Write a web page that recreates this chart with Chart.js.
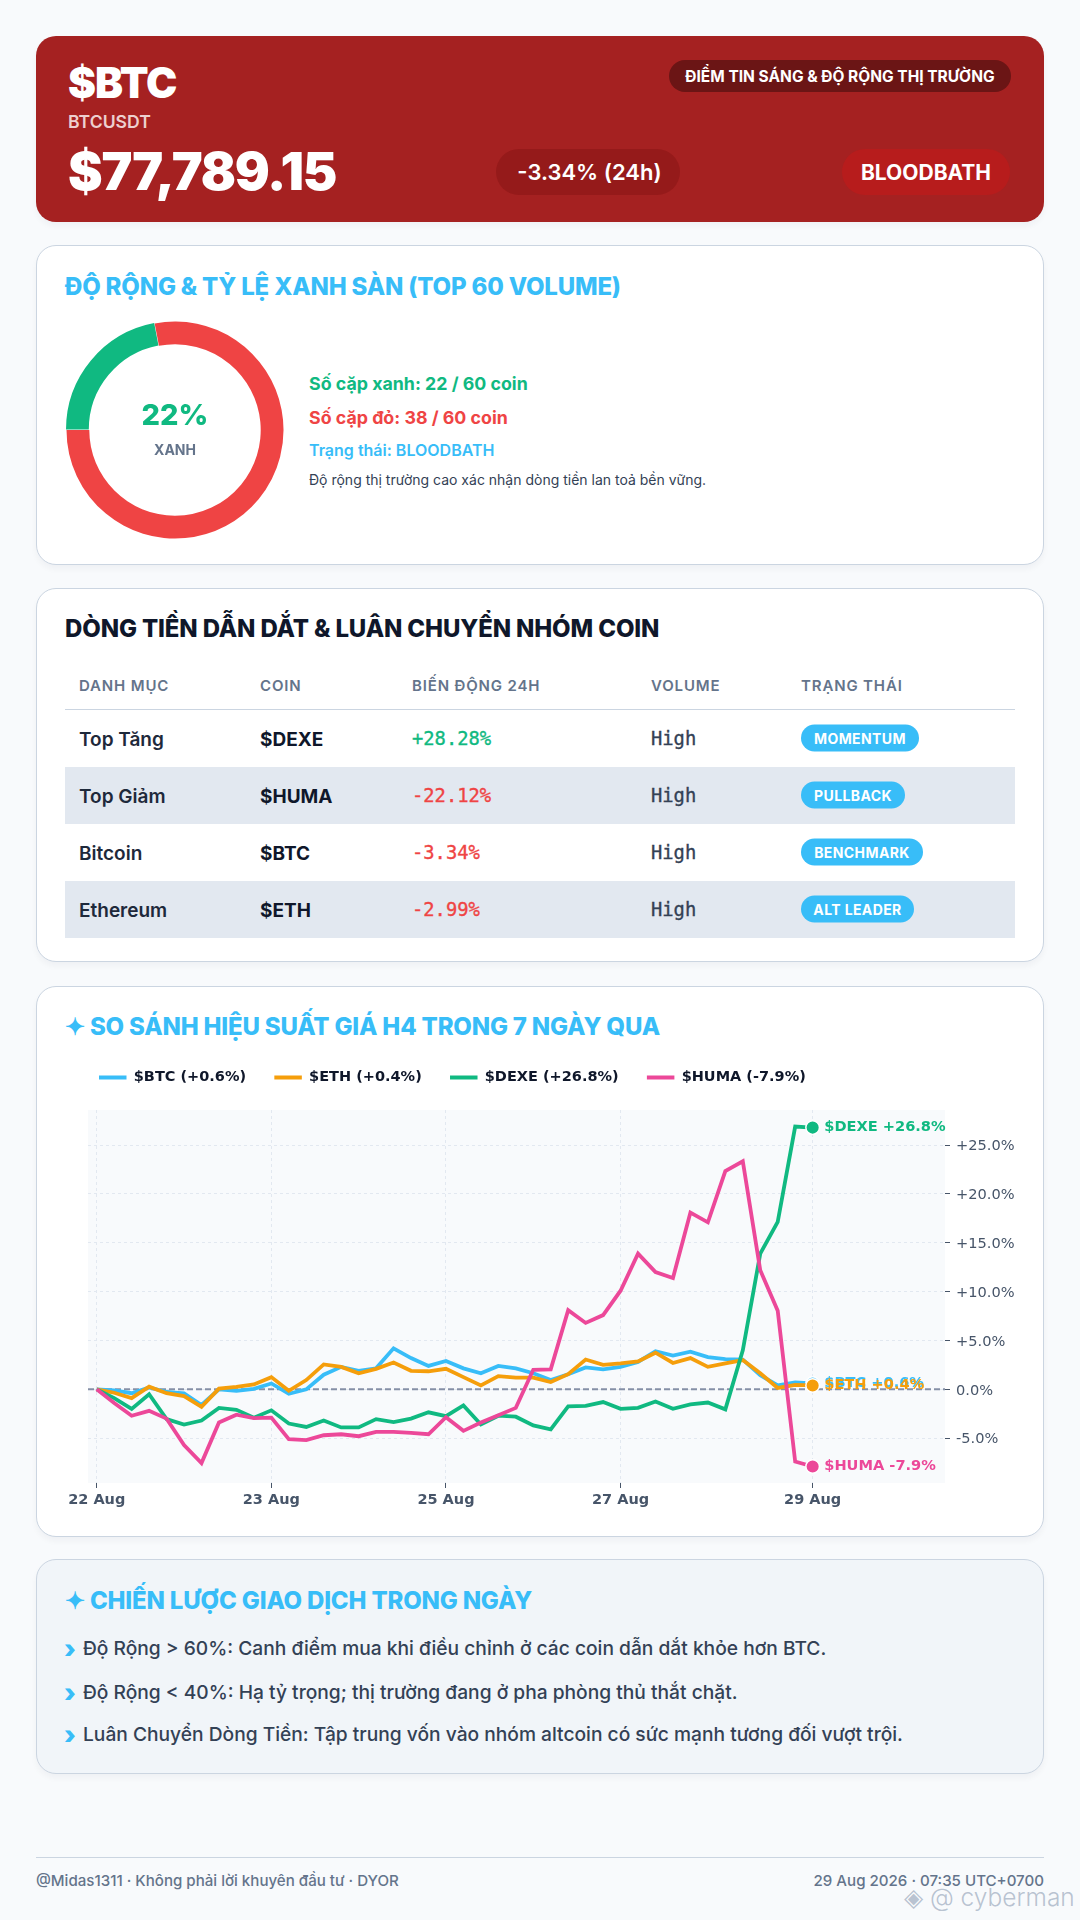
<!DOCTYPE html>
<html lang="vi">
<head>
<meta charset="utf-8">
<title>$BTC</title>
<script src="https://cdn.jsdelivr.net/npm/chart.js@4"></script>
<style>
  * { box-sizing: border-box; margin: 0; padding: 0; }
  html, body { width: 1080px; height: 1920px; overflow: hidden; background: #f8fafc; font-family: Inter, sans-serif; }
  .abs { position: absolute; white-space: nowrap; line-height: 1; }
  .card { position: absolute; left: 36px; width: 1008px; background: #fff; border: 1px solid #cbd5e1; border-radius: 20px; box-shadow: 0 4px 6px rgba(15,23,42,.04); }
  .hero { top: 36px; height: 186px; background: #a52121; border: none; }
  .pill { position: absolute; border-radius: 24px; color: #fff; display: flex; align-items: center; justify-content: center; white-space: nowrap; }
  .title { font-size: 24px; font-weight: 800; color: #38bdf8; letter-spacing: -0.18px; transform: translateY(-50%); }
  .th { font-size: 15px; font-weight: 600; color: #64748b; top: 685px; transform: translateY(-50%); letter-spacing: .85px; }
  .row { position: absolute; left: 65px; width: 950px; height: 57px; }
  .row.alt { background: #e2e8f0; }
  .cell { transform: translateY(-50%); }
  .name { left: 79px; font-size: 19px; font-weight: 600; color: #1e293b; }
  .coin { left: 260px; font-size: 19px; font-weight: 700; color: #0f172a; }
  .mono { font-family: "DejaVu Sans Mono", monospace; font-size: 18.8px; -webkit-text-stroke: .35px currentColor; }
  .tag { left: 801px; height: 27px; border-radius: 14px; background: #38bdf8; color: #fff; font-size: 14px; font-weight: 700; display: flex; align-items: center; justify-content: center; letter-spacing: .4px; }
  .tip { left: 83px; font-size: 19.2px; font-weight: 500; color: #334155; transform: translateY(-50%); }
  .chev { left: 64px; font-size: 25px; font-weight: 900; color: #38bdf8; transform: translateY(-50%); }
  canvas { position: absolute; }
</style>
</head>
<body>
<div class="card hero"></div>
<div class="abs" style="left:68px;top:62px;font-size:42px;font-weight:900;color:#fff;letter-spacing:-1px">$BTC</div>
<div class="abs" style="left:68px;top:113px;font-size:17.6px;font-weight:600;color:#edcfcf">BTCUSDT</div>
<div class="abs" style="left:68px;top:146px;font-size:52px;font-weight:900;color:#fff;letter-spacing:-1.2px">$77,789.15</div>
<div class="pill" style="left:669px;top:60px;width:342px;height:32px;background:#6b1515;font-size:15.5px;font-weight:700">ĐIỂM TIN SÁNG &amp; ĐỘ RỘNG THỊ TRƯỜNG</div>
<div class="pill" style="left:496px;top:149px;width:184px;height:46px;padding-left:3px;background:#951a1a;font-size:22px;font-weight:600">-3.34% (24h)</div>
<div class="pill" style="left:842px;top:149px;width:168px;height:46px;background:#b71c1c;font-size:21px;font-weight:700">BLOODBATH</div>

<div class="card" style="top:245px;height:320px"></div>
<div class="abs title" style="left:65px;top:287px">ĐỘ RỘNG &amp; TỶ LỆ XANH SÀN (TOP 60 VOLUME)</div>
<canvas id="donut" width="240" height="240" style="left:55px;top:310px"></canvas>
<div class="abs" style="left:175px;top:414px;transform:translate(-50%,-50%);font-size:29px;font-weight:800;color:#10b981">22%</div>
<div class="abs" style="left:175px;top:450px;transform:translate(-50%,-50%);font-size:14px;font-weight:700;color:#64748b">XANH</div>
<div class="abs cell" style="left:309px;top:384px;font-size:17.8px;font-weight:700;color:#10b981">Số cặp xanh: 22 / 60 coin</div>
<div class="abs cell" style="left:309px;top:418px;font-size:17.8px;font-weight:700;color:#ef4444">Số cặp đỏ: 38 / 60 coin</div>
<div class="abs cell" style="left:309px;top:450px;font-size:16px;font-weight:600;color:#38bdf8">Trạng thái: BLOODBATH</div>
<div class="abs cell" style="left:309px;top:480px;font-size:14px;font-weight:400;color:#334155">Độ rộng thị trường cao xác nhận dòng tiền lan toả bền vững.</div>

<div class="card" style="top:588px;height:374px"></div>
<div class="abs title" style="left:65px;top:629px;color:#0f172a;letter-spacing:-.13px">DÒNG TIỀN DẪN DẮT &amp; LUÂN CHUYỂN NHÓM COIN</div>
<div class="abs th" style="left:79px">DANH MỤC</div>
<div class="abs th" style="left:260px">COIN</div>
<div class="abs th" style="left:412px">BIẾN ĐỘNG 24H</div>
<div class="abs th" style="left:651px">VOLUME</div>
<div class="abs th" style="left:801px">TRẠNG THÁI</div>
<div class="abs" style="left:65px;top:709px;width:950px;height:1px;background:#cbd5e1"></div>
<div class="row alt" style="top:767px"></div>
<div class="row alt" style="top:881px"></div>
<div id="rows"></div>

<div class="card" style="top:986px;height:551px"></div>
<div class="abs title" style="left:65px;top:1027px">✦ SO SÁNH HIỆU SUẤT GIÁ H4 TRONG 7 NGÀY QUA</div>
<canvas id="perf" width="1006" height="500" style="left:37px;top:1030px"></canvas>

<div class="card" style="top:1559px;height:215px;background:#f1f5f9"></div>
<div class="abs title" style="left:65px;top:1601px">✦ CHIẾN LƯỢC GIAO DỊCH TRONG NGÀY</div>
<div id="tips"></div>

<div class="abs" style="left:36px;top:1857px;width:1008px;height:1px;background:#cbd5e1"></div>
<div class="abs cell" style="left:36px;top:1881px;font-size:15.1px;font-weight:500;color:#64748b">@Midas1311 · Không phải lời khuyên đầu tư · DYOR</div>
<div class="abs cell" style="right:36px;top:1881px;font-size:15.1px;font-weight:500;color:#64748b">29 Aug 2026 · 07:35 UTC+0700</div>
<div class="abs cell" style="left:904px;top:1897px;font-size:24.5px;font-weight:300;color:rgba(148,163,184,.65)">◈ @ cyberman</div>

<script>
const tickIndexes = [0, 10, 20, 30, 41];
const tickLabels = ["22 Aug", "23 Aug", "25 Aug", "27 Aug", "29 Aug"];
const yTicks = [-5, 0, 5, 10, 15, 20, 25];

const btcValues = [0, -0.1, -0.4, 0.2, -0.27, -0.4, -1.6, 0, -0.15, 0.05, 0.6, -0.45, 0, 1.5, 2.3, 1.9, 2.15, 4.2, 3.2, 2.4, 2.9, 2.15, 1.65, 2.4, 2.15, 1.65, 0.95, 1.55, 2.25, 2.05, 2.3, 2.8, 3.9, 3.45, 3.85, 3.3, 3.1, 3.05, 1.45, 0.4, 0.7, 0.6];
const ethValues = [0, -0.35, -0.9, 0.27, -0.4, -0.7, -1.8, 0.07, 0.25, 0.5, 1.25, -0.15, 0.95, 2.55, 2.3, 1.65, 2.1, 2.75, 1.9, 1.85, 2.1, 1.25, 0.4, 1.35, 1.2, 1.2, 0.75, 1.55, 3.05, 2.5, 2.65, 2.85, 3.75, 2.7, 3.2, 2.3, 2.65, 3.0, 1.65, 0.15, 0.45, 0.4];
const dexeValues = [0, -0.9, -2.0, -0.5, -3.05, -3.6, -3.2, -1.9, -2.1, -2.9, -2.15, -3.5, -3.85, -3.2, -3.9, -3.9, -3.05, -3.35, -3.0, -2.35, -2.75, -1.65, -3.6, -2.7, -2.8, -3.7, -4.1, -1.75, -1.7, -1.3, -2.0, -1.9, -1.25, -2.0, -1.55, -1.35, -2.05, 4.0, 13.9, 17.15, 26.9, 26.8];
const humaValues = [0, -1.4, -2.7, -2.2, -3.0, -5.7, -7.55, -3.4, -2.6, -2.95, -2.9, -5.1, -5.2, -4.7, -4.6, -4.8, -4.35, -4.35, -4.45, -4.6, -2.85, -4.25, -3.4, -2.65, -1.9, 2.0, 2.05, 8.1, 6.8, 7.6, 10.1, 13.9, 12.0, 11.4, 18.1, 17.1, 22.35, 23.35, 12.2, 8.05, -7.4, -7.9];

const legendNames = ["$BTC (+0.6%)", "$ETH (+0.4%)", "$DEXE (+26.8%)", "$HUMA (-7.9%)"];
const endLabels = ["$BTC +0.6%", "$ETH +0.4%", "$DEXE +26.8%", "$HUMA -7.9%"];
const colors = ["#38bdf8", "#f59e0b", "#10b981", "#ec4899"];

const breadthSplit = [22, 78];
const breadthColors = ["#10b981", "#ef4444"];

const tableRows = [
  ["Top Tăng", "$DEXE", "+28.28%", "#10b981", "MOMENTUM", 118],
  ["Top Giảm", "$HUMA", "-22.12%", "#ef4444", "PULLBACK", 104],
  ["Bitcoin", "$BTC", "-3.34%", "#ef4444", "BENCHMARK", 122],
  ["Ethereum", "$ETH", "-2.99%", "#ef4444", "ALT LEADER", 113],
];
const tips = [
  "Độ Rộng > 60%: Canh điểm mua khi điều chỉnh ở các coin dẫn dắt khỏe hơn BTC.",
  "Độ Rộng < 40%: Hạ tỷ trọng; thị trường đang ở pha phòng thủ thắt chặt.",
  "Luân Chuyển Dòng Tiền: Tập trung vốn vào nhóm altcoin có sức mạnh tương đối vượt trội.",
];

function addText(parent, cls, top, text, style) {
  const el = document.createElement("div");
  el.className = "abs " + cls;
  el.style.top = top + "px";
  el.textContent = text;
  if (style) el.style.cssText += style;
  parent.appendChild(el);
}

const rowsBox = document.getElementById("rows");
tableRows.forEach((r, i) => {
  const y = [739, 796, 853, 910][i];
  addText(rowsBox, "cell name", y, r[0]);
  addText(rowsBox, "cell coin", y, r[1]);
  addText(rowsBox, "cell mono", y, r[2], "left:412px;color:" + r[3]);
  addText(rowsBox, "cell mono", y, "High", "left:651px;color:#334155");
  addText(rowsBox, "cell tag", y - 1, r[4], "width:" + r[5] + "px");
});

const tipsBox = document.getElementById("tips");
tips.forEach((t, i) => {
  const y = [1649, 1693, 1735][i];
  addText(tipsBox, "chev", y, "›");
  addText(tipsBox, "tip", y, t);
});

new Chart(document.getElementById("donut"), {
  type: "doughnut",
  data: {
    datasets: [{
      data: breadthSplit,
      backgroundColor: breadthColors,
      borderWidth: 0,
      offset: [2.5, 0],
    }],
  },
  options: {
    responsive: false,
    animation: false,
    rotation: -90,
    radius: 108.5,
    cutout: "79%",
    plugins: { legend: { display: false }, tooltip: { enabled: false } },
  },
});

// plot box in canvas pixels, canvas sits at (37, 1030)
const plotLeft = 51;
const legendTopPad = 12;
const legendHeight = 68;
const legendLeft = 33.75;

const plotBack = {
  id: "plotBack",
  beforeDraw(chart) {
    const a = chart.chartArea;
    chart.ctx.fillStyle = "#f8fafc";
    chart.ctx.fillRect(a.left, a.top, a.right - a.left, a.bottom - a.top);
  },
};

// legend sits wider than the plot and closer to it than its padding allows
const legendFit = {
  id: "legendFit",
  beforeInit(chart) {
    const fit = chart.legend.fit;
    chart.legend.fit = function () {
      fit.call(this);
      this.height = legendHeight;
    };
  },
  afterLayout(chart) {
    chart.legend.left = legendLeft;
  },
};

const endText = {
  id: "endText",
  afterDatasetsDraw(chart) {
    const ctx = chart.ctx;
    ctx.save();
    ctx.font = "bold 14.6px 'DejaVu Sans'";
    ctx.textBaseline = "middle";
    endLabels.forEach((label, i) => {
      const pt = chart.getDatasetMeta(i).data[41];
      ctx.fillStyle = colors[i];
      ctx.fillText(label, pt.x + 11.6, pt.y);
    });
    ctx.restore();
  },
};

function lineSet(i, values) {
  return {
    label: legendNames[i],
    data: values.map((v, x) => ({ x: x, y: v })),
    borderColor: colors[i],
    backgroundColor: colors[i],
    borderWidth: 3.8,
    tension: 0,
    order: 4 - i,
    pointRadius: (c) => (c.dataIndex === 41 ? 6.8 : 0),
    pointBackgroundColor: colors[i],
    pointBorderColor: "#ffffff",
    pointBorderWidth: 1.5,
  };
}

const xMin = -0.5;
const xMax = 48.58;

new Chart(document.getElementById("perf"), {
  type: "line",
  data: {
    datasets: [
      lineSet(0, btcValues),
      lineSet(1, ethValues),
      lineSet(2, dexeValues),
      lineSet(3, humaValues),
      {
        label: "zero",
        data: [{ x: xMin, y: 0 }, { x: xMax, y: 0 }],
        borderColor: "#8590a6",
        borderWidth: 2,
        borderDash: [6, 3],
        pointRadius: 0,
        order: 5,
      },
    ],
  },
  plugins: [plotBack, legendFit, endText],
  options: {
    responsive: false,
    animation: false,
    layout: { padding: { left: plotLeft, top: legendTopPad, right: 0, bottom: 0 } },
    plugins: {
      tooltip: { enabled: false },
      legend: {
        align: "start",
        labels: {
          usePointStyle: true,
          pointStyle: "line",
          pointStyleWidth: 27.5,
          padding: 28.25,
          color: "#0f172a",
          font: { family: "'DejaVu Sans'", size: 14.5, weight: "bold" },
          generateLabels(chart) {
            const items = Chart.defaults.plugins.legend.labels.generateLabels(chart);
            items.forEach((item) => {
              item.strokeStyle = chart.data.datasets[item.datasetIndex].borderColor;
              item.lineWidth = 3.8;
            });
            return items;
          },
          filter: (item) => item.text !== "zero",
          sort: (a, b) => a.datasetIndex - b.datasetIndex,
        },
      },
    },
    scales: {
      x: {
        type: "linear",
        min: xMin,
        max: xMax,
        border: { display: false, dash: [3, 3] },
        grid: { color: "#e2e8f0", tickColor: "#475569", tickLength: 5, lineWidth: 1 },
        afterBuildTicks(scale) {
          scale.ticks = tickIndexes.map((v) => ({ value: v }));
        },
        afterFit(scale) {
          scale.height = 47;
        },
        ticks: {
          autoSkip: false,
          maxRotation: 0,
          color: "#475569",
          padding: 4,
          font: { family: "'DejaVu Sans'", size: 14.5, weight: "bold" },
          callback: (v) => tickLabels[tickIndexes.indexOf(v)],
        },
      },
      y: {
        position: "right",
        min: -9.59,
        max: 28.6,
        border: { display: false, dash: [3, 3] },
        grid: { color: "#e2e8f0", tickColor: "#475569", tickLength: 5, lineWidth: 1 },
        afterBuildTicks(scale) {
          scale.ticks = yTicks.map((v) => ({ value: v }));
        },
        afterFit(scale) {
          scale.width = 98;
        },
        ticks: {
          color: "#475569",
          padding: 6,
          labelOffset: 1.5,
          font: { family: "'DejaVu Sans'", size: 14.6 },
          callback: (v) => (v > 0 ? "+" : "") + v.toFixed(1) + "%",
        },
      },
    },
  },
});
</script>
</body>
</html>
